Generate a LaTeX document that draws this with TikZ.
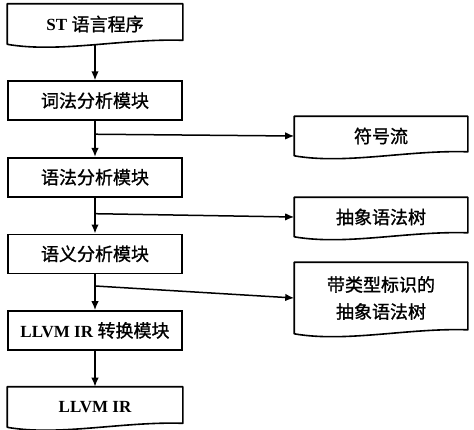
\documentclass[tikz,border=0pt]{standalone}
\usepackage{fontspec}
\setmainfont{Liberation Serif}
\newfontfamily\cjk[FakeBold=1.2]{Noto Sans CJK SC}
\usetikzlibrary{positioning,arrows.meta,calc}
\newcommand{\zh}[1]{{\cjk #1}}
\newcommand{\lat}[1]{{\bfseries\fontsize{17}{20}\selectfont #1}}
\newcommand{\DocOutline}[1]{%
    \draw[line width=1.6pt, line join=round]
        (#1.north west) -- (#1.north east) -- ([yshift=4pt]#1.south east)
        .. controls ([xshift=-60pt,yshift=6pt]#1.south east)
        and ([xshift=52pt,yshift=-9pt]#1.south west) .. (#1.south west) -- cycle;}

\begin{document}
\begin{tikzpicture}[x=1pt,y=1pt]
    \tikzset{Box/.style={draw, line width=1.6pt, minimum width=174pt,
            minimum height=39pt, inner sep=2pt,
            font=\fontsize{18}{27}\selectfont},
        DocBox/.style={Box, draw=none},
        Flow/.style={-{Latex[length=9pt,width=7.5pt]}, line width=1.5pt}}
    \useasboundingbox (0,0) rectangle (474,-429);
    % left column
    \node[DocBox] (st) at (95,-24) {\lat{ST} \zh{语言程序}};
    \DocOutline{st}
    \node[Box, below=36pt of st] (lex) {\zh{词法分析模块}};
    \node[Box, below=36pt of lex] (syn) {\zh{语法分析模块}};
    \node[Box, below=36pt of syn] (sem) {\zh{语义分析模块}};
    \node[Box, below=36pt of sem] (conv) {\lat{LLVM IR} \zh{转换模块}};
    \node[DocBox, below=36pt of conv] (ir) {\lat{LLVM IR}};
    \DocOutline{ir}
    % right column
    \node[DocBox, minimum width=172pt, minimum height=38pt] (tokens) at (381,-136) {\zh{符号流}};
    \DocOutline{tokens}
    \node[DocBox, minimum width=172pt, minimum height=38pt] (ast) at (381,-217) {\zh{抽象语法树}};
    \DocOutline{ast}
    \node[DocBox, minimum width=172pt, minimum height=70pt, align=center] (tast) at (381,-298)
        {\zh{带类型标识的}\\\zh{抽象语法树}};
    \DocOutline{tast}
    % flow
    \draw[Flow] (st) -- (lex);
    \draw[Flow] (lex) -- (syn);
    \draw[Flow] (syn) -- (sem);
    \draw[Flow] (sem) -- (conv);
    \draw[Flow] (conv) -- (ir);
    \coordinate (t1) at ($(lex.south)!0.37!(syn.north)$);
    \coordinate (t2) at ($(syn.south)!0.45!(sem.north)$);
    \coordinate (t3) at ($(sem.south)!0.33!(conv.north)$);
    \draw[Flow] (t1) -- (tokens.west);
    \draw[Flow] (t2) -- (ast.west);
    \draw[Flow] (t3) -- (tast.west);
\end{tikzpicture}
\end{document}
